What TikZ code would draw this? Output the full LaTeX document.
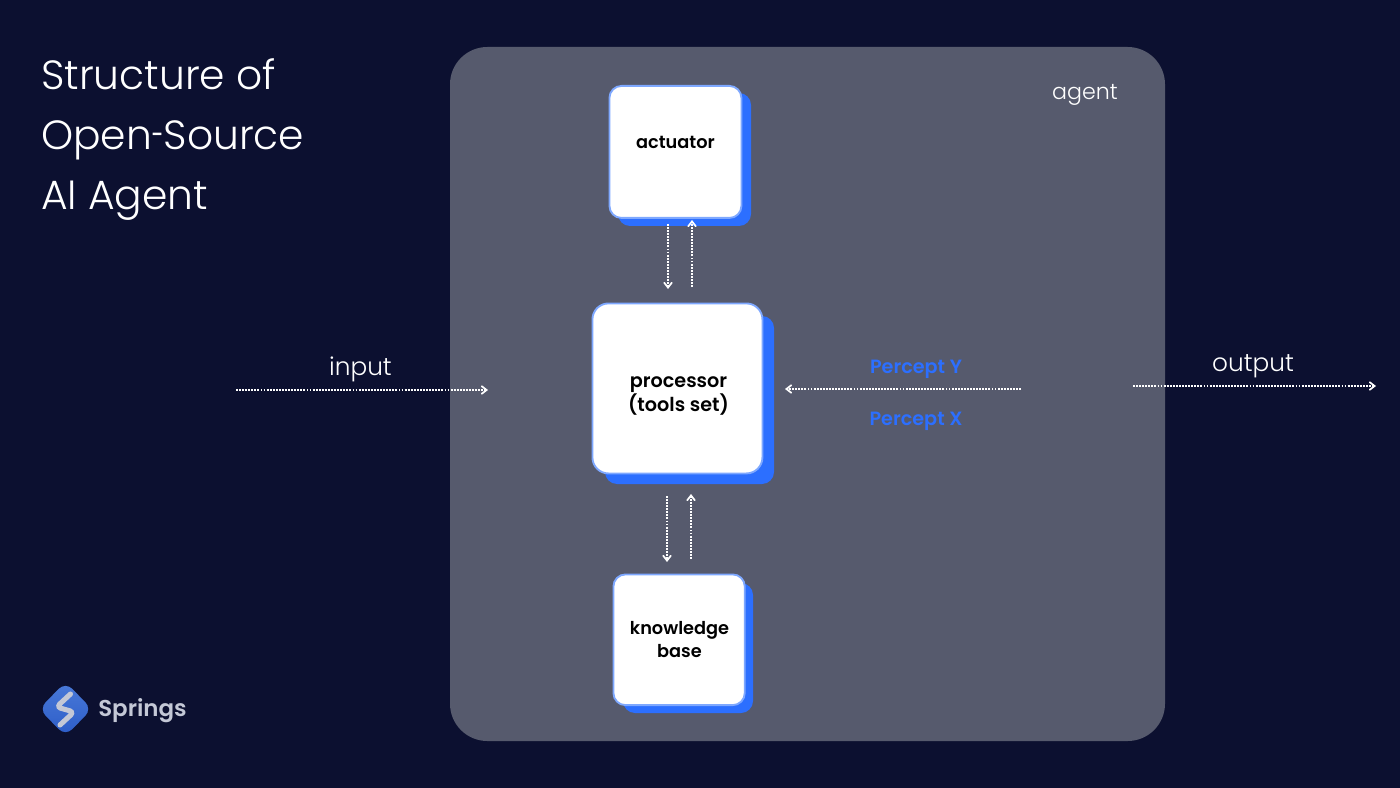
\documentclass[tikz,border=0pt]{standalone}
\usepackage{graphicx}
\usepackage{fontspec}
\setmainfont{Poppins}
\newfontfamily\lightf{Poppins}[UprightFont=* Light]
\newfontfamily\medf{Poppins}[UprightFont=* SemiBold]
\usetikzlibrary{arrows.meta,calc}
\definecolor{bgc}{HTML}{0C1030}
\definecolor{panelc}{HTML}{565A6D}
\definecolor{bluec}{HTML}{2C6FFF}
\definecolor{edgec}{HTML}{7EA8FF}
\definecolor{logotop}{HTML}{4A7AD8}
\definecolor{logobot}{HTML}{2C5CC8}
\definecolor{brandc}{HTML}{C4C8D6}
\tikzset{
  x=0.75pt,y=-0.75pt,
  titletext/.style={anchor=base west,text=white,font=\lightf\fontsize{30.6}{36}\selectfont,inner sep=0},
  labeltext/.style={anchor=base,text=white,font=\lightf\fontsize{18.6}{22}\selectfont,inner sep=0},
  perceptlabel/.style={anchor=base,text=bluec,font=\medf\fontsize{14.4}{18}\selectfont,inner sep=0},
  boxtext/.style={text=black,font=\medf\fontsize{13.3}{17}\selectfont,align=center,inner sep=0},
  cardface/.style={fill=white,draw=edgec,line width=1.4pt,rounded corners=9pt},
  cardback/.style={fill=bluec,rounded corners=9pt},
  flow/.style={draw=white,line width=1.35pt,dash pattern=on 1.4pt off 0.9pt,
     -{Straight Barb[length=3.6pt,width=5.6pt,line width=1.3pt,line cap=round]}},
}
\begin{document}
\begin{tikzpicture}
\useasboundingbox (0,0) rectangle (1400,788);
\fill[bgc] (0,0) rectangle (1400,788);
\fill[panelc,rounded corners=28pt] (450,47) rectangle (1165,741);

% title
\node[titletext] (t1) at (41,90) {Structure of};
\node[titletext] (t2) at (41,150) {Open\scalebox{0.55}[1]{-}Source};
\node[titletext] (t3) at (41,210) {AI Agent};
\node[anchor=base,text=white,font=\lightf\fontsize{16.6}{20}\selectfont,inner sep=0] (agentl) at (1085,100) {agent};

% cards
\fill[cardback] (618,93) rectangle (751,226);
\node[cardface,minimum width=99pt,minimum height=99pt,inner sep=0,anchor=north west] (act) at (608.5,85) {};
\node[boxtext] (actt) at (675.5,142) {actuator};

\fill[cardback] (605,316) rectangle (774,484);
\node[cardface,minimum width=127.5pt,minimum height=127.5pt,inner sep=0,anchor=north west,rounded corners=12pt] (proc) at (591.5,302.5) {};
\node[boxtext,font=\medf\fontsize{14.4}{18}\selectfont] (proct) at (678.5,396) {processor\\(tools set)};

\fill[cardback] (623,583) rectangle (753,713);
\node[cardface,minimum width=98.5pt,minimum height=98pt,inner sep=0,anchor=north west] (kb) at (612.5,573.5) {};
\node[boxtext] (kbt) at (679.5,639.5) {knowledge\\base};

% free ends
\coordinate (a1) at (668,224); \coordinate (a2) at (668,289);
\coordinate (a3) at (692,287); \coordinate (a4) at (692,220);
\coordinate (b1) at (667,496); \coordinate (b2) at (667,562);
\coordinate (b3) at (691,559); \coordinate (b4) at (691,494);
\coordinate (in1) at (236,390); \coordinate (in2) at (488,390);
\coordinate (p1) at (1021,389); \coordinate (p2) at (785,389);
\coordinate (o1) at (1133,386); \coordinate (o2) at (1376,386);

\draw[flow] (a1) -- (a2);
\draw[flow] (a3) -- (a4);
\draw[flow] (b1) -- (b2);
\draw[flow] (b3) -- (b4);
\draw[flow] (in1) -- (in2);
\draw[flow] (p1) -- (p2);
\draw[flow] (o1) -- (o2);

\node[labeltext] (inl) at (360.5,375) {input};
\node[labeltext] (outl) at (1253,371) {output};
\node[perceptlabel] (py) at (916,373) {Percept Y};
\node[perceptlabel] (px) at (916,425) {Percept X};

% logo
\path[top color=logotop,bottom color=logobot,rounded corners=7pt] (65.5,682) -- (92,709) -- (65.5,736) -- (39,709) -- cycle;
\draw[brandc,line width=3.8pt,line cap=round,line join=round,rounded corners=3pt] (70.5,694) -- (56.5,707) -- (74,712) -- (60,725);
\node[anchor=base west,text=brandc,font=\medf\fontsize{17.2}{20}\selectfont,inner sep=0] (brand) at (98,716) {Springs};
\end{tikzpicture}
\end{document}
